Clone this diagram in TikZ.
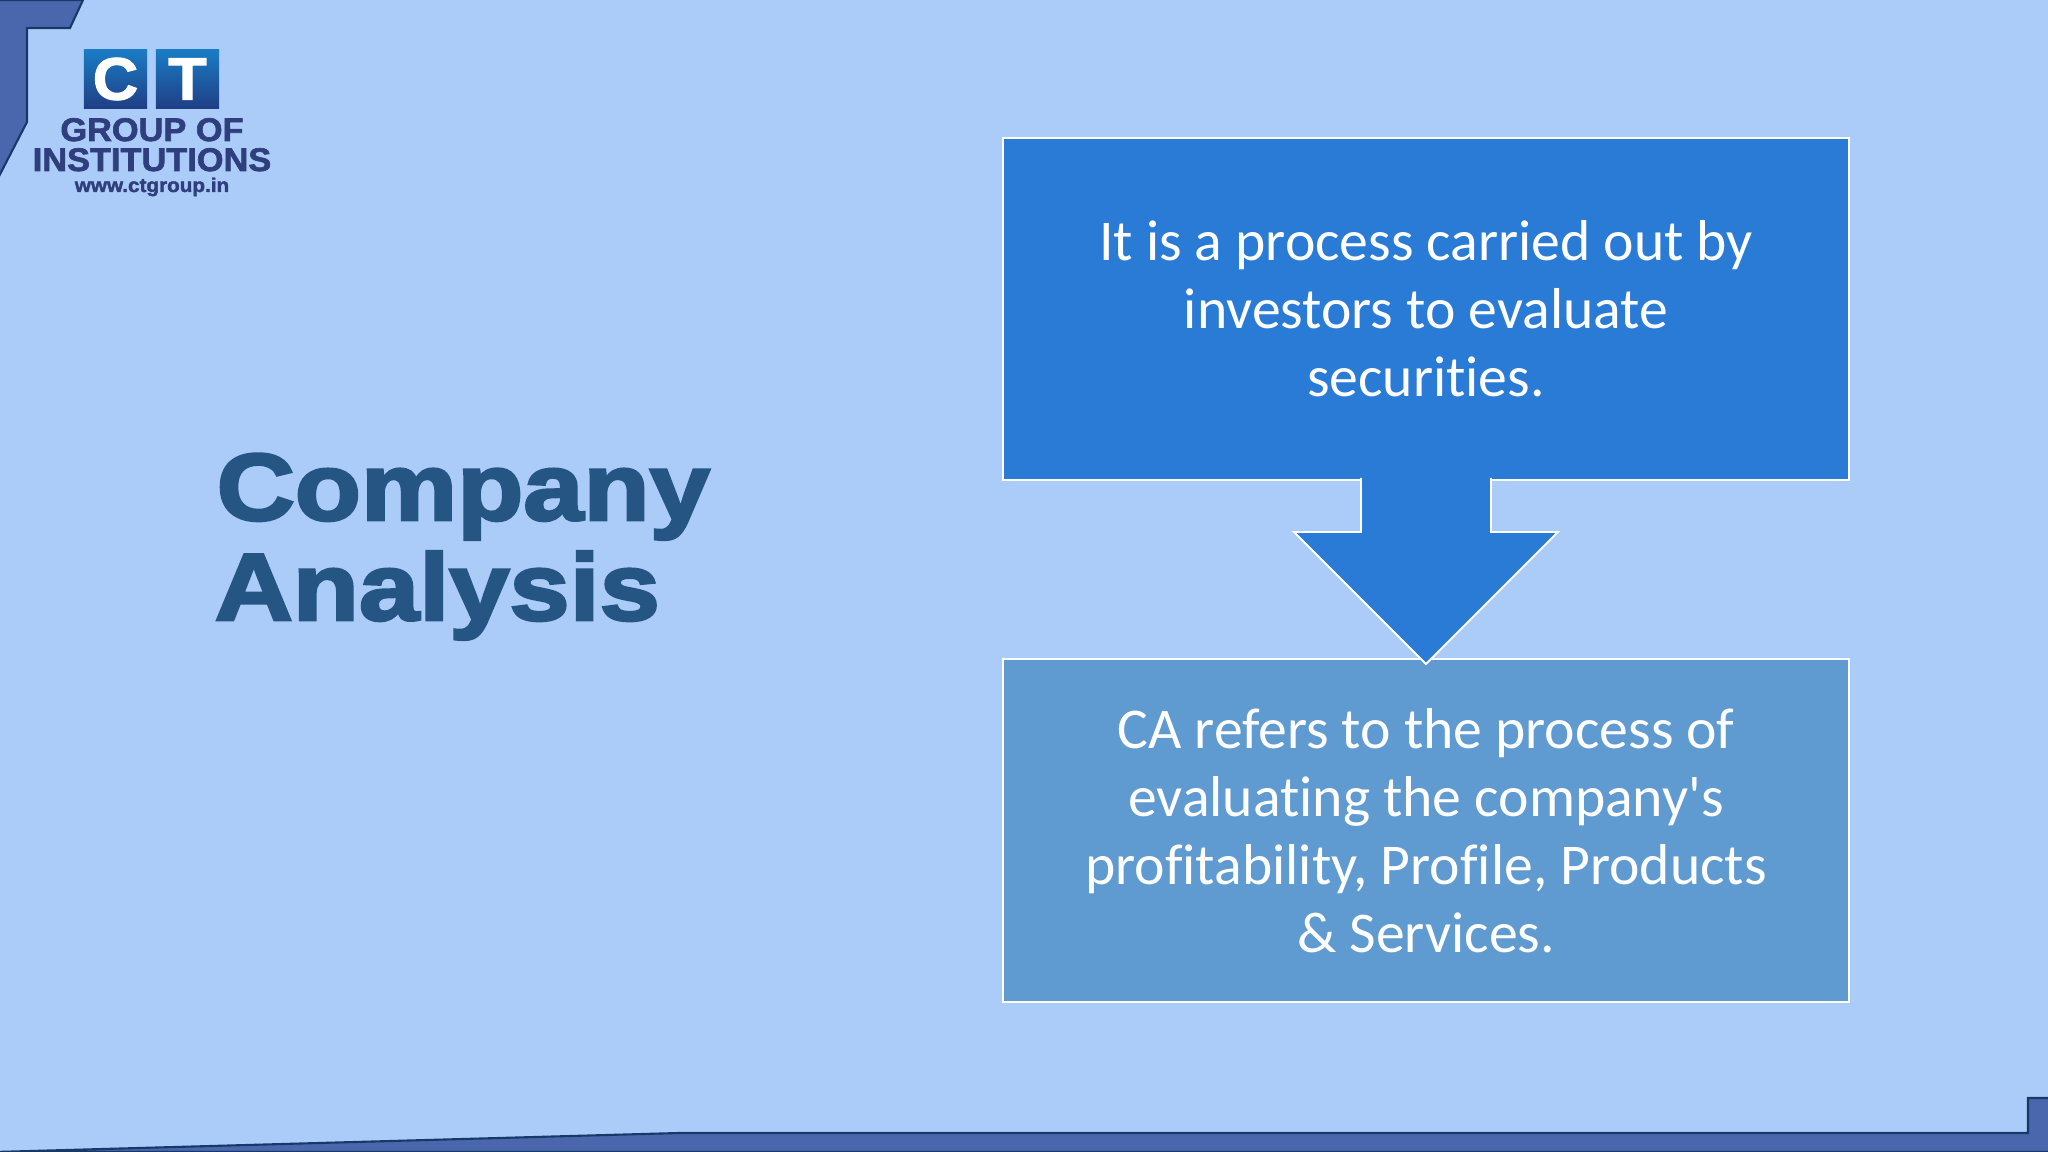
\documentclass[tikz,border=0pt]{standalone}
\usepackage{fontspec}
\newfontfamily\boxfont[Ligatures=NoCommon]{Carlito}
\newfontfamily\titlefont[FakeStretch=1.14,BoldFeatures={FakeBold=3}]{Liberation Sans}
\newfontfamily\logofont[FakeStretch=1.05,BoldFeatures={FakeBold=2}]{Liberation Sans}
\definecolor{slidebg}{HTML}{ABCBF9}
\definecolor{darkbox}{HTML}{2A7BD6}
\definecolor{lightbox}{HTML}{5F9AD1}
\definecolor{bandfill}{HTML}{4A66AC}
\definecolor{bandline}{HTML}{163A68}
\definecolor{titleblue}{HTML}{255583}
\definecolor{logotext}{HTML}{2F3F7E}
\definecolor{logotop}{HTML}{1A7CC4}
\definecolor{logobot}{HTML}{1F3F86}
\tikzset{
  band/.style={fill=bandfill,draw=bandline,line width=0.6pt},
  infobox/.style={draw=white,line width=0.55pt,minimum width=8.46cm,align=center,text=white,
    font=\boxfont\fontsize{16.4}{19.35}\selectfont},
  logobox/.style={top color=logotop,bottom color=logobot,minimum width=0.63cm,minimum height=0.58cm,inner sep=0pt,
    text=white,font=\logofont\bfseries\fontsize{17}{17}\selectfont},
  logoline/.style={text=logotext,inner sep=0pt,anchor=base},
  titleline/.style={anchor=base west,inner sep=0pt,text=titleblue,font=\titlefont\bfseries\fontsize{27}{28.45}\selectfont}
}
\begin{document}
\begin{tikzpicture}[x=0.01cm,y=-0.01cm]
\fill[slidebg] (0,0) rectangle (2048,1152); %background
\useasboundingbox (0,0) rectangle (2048,1152);
\draw[band] (-5,0)--(83,0)--(70,28)--(27,28)--(27,122)--(-5,184)--cycle; %corner
\draw[band] (-5,1152)--(679,1133)--(2028,1133)--(2028,1098)--(2053,1098)--(2053,1152)--cycle;
\node[logobox] (logoc) at (115.5,79) {C};
\node[logobox] (logot) at (187.5,79) {T};
\node[logoline,font=\logofont\bfseries\fontsize{9.3}{9.3}\selectfont] (logogroup) at (152,141) {GROUP OF};
\node[logoline,font=\logofont\bfseries\fontsize{9.3}{9.3}\selectfont] (logoinst) at (152,171) {INSTITUTIONS};
\node[logoline,font=\logofont\bfseries\fontsize{5.6}{5.6}\selectfont] (logoweb) at (152,192) {www.ctgroup.in};
\node[titleline] (titlea) at (216,520) {Company};
\node[titleline] (titleb) at (214,620) {Analysis};
\node[infobox,fill=darkbox,minimum height=3.42cm] (topbox) at (1426,309) {It is a process carried out by\\investors to evaluate\\securities.};
\node[infobox,fill=lightbox,minimum height=3.43cm] (lowbox) at (1426,830.5) {CA refers to the process of\\evaluating the company's\\profitability, Profile, Products\\\& Services.};
\draw[draw=white,line width=0.55pt,fill=darkbox] (1361,478)--(1361,532)--(1294,532)--(1426,664)--(1558,532)--(1491,532)--(1491,478); %arrow
\end{tikzpicture}
\end{document}
